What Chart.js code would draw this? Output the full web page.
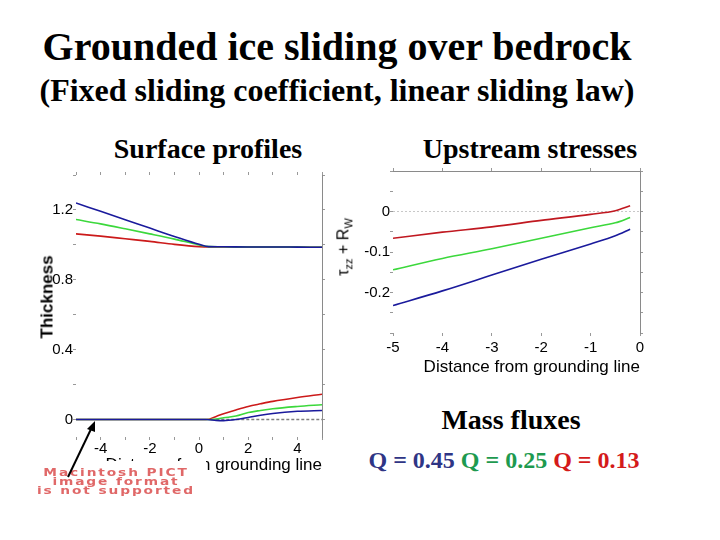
<!DOCTYPE html>
<html>
<head>
<meta charset="utf-8">
<script src="https://cdn.jsdelivr.net/npm/chart.js@4.4.1/dist/chart.umd.min.js"></script>
<style>
    body { margin: 0; width: 720px; height: 540px; background: #fff; position: relative; overflow: hidden;
           font-family: "Liberation Sans", Arial, sans-serif; }
    canvas { position: absolute; }
    .serif { position: absolute; white-space: nowrap; line-height: 1; font-weight: bold;
             font-family: "Liberation Serif", "Times New Roman", serif; transform: translateX(-50%); }
    .vlabel { position: absolute; white-space: nowrap; line-height: 1; color: #000;
              transform: translate(-50%, -50%) rotate(-90deg); }
    .pict { position: absolute; left: 26px; top: 461px; width: 180px; height: 38px; background: #fff;
            padding-top: 8px; box-sizing: border-box; }
    .pict div { text-align: center; color: #e06868; font: bold 11px "DejaVu Sans", sans-serif;
                letter-spacing: 1.5px; line-height: 8.8px; transform: scaleX(1.25); }
</style>
</head>
<body>

<div class="serif" style="left:337px; top:27px; font-size:40px;">Grounded ice sliding over bedrock</div>
<div class="serif" style="left:337px; top:74px; font-size:32px;">(Fixed sliding coefficient, linear sliding law)</div>
<div class="serif" style="left:208px; top:135px; font-size:28px;">Surface profiles</div>
<div class="serif" style="left:530px; top:135px; font-size:28px;">Upstream stresses</div>
<div class="serif" style="left:511px; top:406px; font-size:28px;">Mass fluxes</div>
<div class="serif" style="left:504px; top:448px; font-size:24px;">
    <span style="color:#2f3585">Q = 0.45</span>
    <span style="color:#1e9a4f">Q = 0.25</span>
    <span style="color:#d41a1a">Q = 0.13</span>
</div>

<canvas id="profileChart" width="330" height="316" style="left:0; top:160px;"></canvas>
<canvas id="stressChart" width="310" height="218" style="left:340px; top:160px;"></canvas>

<div class="vlabel" style="left:47px; top:297px; font-size:17px; font-weight:bold;">Thickness</div>
<div class="vlabel" style="left:345px; top:247px; font-size:16px;">&tau;<sub style="font-size:11px">zz</sub> + R<sub style="font-size:11px">W</sub></div>

<div class="pict">
    <div>Macintosh PICT</div>
    <div>image format</div>
    <div>is not supported</div>
</div>
<svg width="720" height="540" style="position:absolute; left:0; top:0;">
    <line x1="68" y1="477" x2="92" y2="427" stroke="#000" stroke-width="2"/>
    <polygon points="95,421 87,429 95,432" fill="#000"/>
</svg>

<script>
// --- Data: surface profiles (left panel) ---
const surfX   = [-5, -4, -3, -2, -1, 0, 0.4, 1, 2, 3, 4, 5];
const surfQ45 = [1.24, 1.192, 1.144, 1.096, 1.048, 1.003, 0.99, 0.989, 0.988, 0.988, 0.987, 0.986];
const surfQ25 = [1.145, 1.12, 1.092, 1.063, 1.033, 1.0, 0.99, 0.989, 0.988, 0.988, 0.987, 0.986];
const surfQ13 = [1.063, 1.05, 1.035, 1.02, 1.003, 0.99, 0.988, 0.988, 0.988, 0.988, 0.987, 0.986];

const baseX   = [-5, -4, -3, -2, -1, 0, 0.3, 0.7, 1, 1.5, 2, 2.5, 3, 4, 5];
const baseQ45 = [0, 0, 0, 0, 0, 0, 0, -0.005, -0.006, 0.0, 0.012, 0.025, 0.035, 0.047, 0.052];
const baseQ25 = [0, 0, 0, 0, 0, 0, 0, 0.003, 0.01, 0.02, 0.04, 0.052, 0.062, 0.075, 0.085];
const baseQ13 = [0, 0, 0, 0, 0, 0, 0, 0.018, 0.033, 0.055, 0.075, 0.09, 0.104, 0.126, 0.145];

const bedX = [0.5, 5];
const bedY = [0, 0];

// --- Data: upstream stresses (right panel) ---
const stressX   = [-5, -4, -3, -2, -1, -0.5, -0.2];
const stressQ45 = [-0.232, -0.196, -0.157, -0.118, -0.08, -0.06, -0.044];
const stressQ25 = [-0.144, -0.116, -0.092, -0.066, -0.04, -0.028, -0.015];
const stressQ13 = [-0.066, -0.051, -0.038, -0.022, -0.007, 0.002, 0.014];

const zeroX = [-5, 0];
const zeroY = [0, 0];

// --- Helpers ---
const BLUE = "#1a1a9c";
const GREEN = "#3cd83c";
const RED = "#cc1a1a";
const TICK_FONT = { family: "Liberation Sans, Arial, sans-serif", size: 15 };

const pts = (xs, ys) => xs.map((x, i) => ({ x: x, y: ys[i] }));
const fixW = (w) => (s) => { s.width = w; };
const fixH = (h) => (s) => { s.height = h; };

function line(xs, ys, color, extra) {
    return Object.assign({
        data: pts(xs, ys),
        showLine: true,
        borderColor: color,
        borderWidth: 1.6,
        pointRadius: 0,
        cubicInterpolationMode: "monotone",
    }, extra || {});
}

function tickMarks(pos, size, min, max, step, border) {
    return {
        type: "linear", position: pos, min: min, max: max,
        afterFit: (pos === "top" || pos === "bottom") ? fixH(size) : fixW(size),
        ticks: { display: false, stepSize: step, includeBounds: false },
        grid: { drawOnChartArea: false, tickLength: 3, color: "#999" },
        border: { display: border, color: "#8a8a8a", width: 1 },
    };
}

const baseOptions = {
    responsive: false,
    maintainAspectRatio: false,
    animation: false,
    layout: { padding: 0, autoPadding: false },
    plugins: { legend: { display: false }, tooltip: { enabled: false } },
};

// --- Surface profiles chart ---
new Chart(document.getElementById("profileChart"), {
    type: "scatter",
    data: {
        datasets: [
            line(surfX, surfQ45, BLUE),
            line(surfX, surfQ25, GREEN),
            line(surfX, surfQ13, RED),
            line(baseX, baseQ45, BLUE),
            line(baseX, baseQ25, GREEN),
            line(baseX, baseQ13, RED),
            line(bedX, bedY, "#808080", { borderDash: [3, 2], borderWidth: 1.5, cubicInterpolationMode: "default" }),
        ],
    },
    options: Object.assign({}, baseOptions, {
        scales: {
            x: {
                type: "linear", position: "bottom", min: -5, max: 5,
                afterFit: fixH(39),
                ticks: {
                    stepSize: 1, padding: 0, color: "#000", font: TICK_FONT, maxRotation: 0, autoSkip: false,
                    callback: v => (v % 2 === 0 && Math.abs(v) < 5) ? String(v) : "",
                },
                grid: { drawOnChartArea: false, tickLength: 3, color: "#999" },
                border: { display: false },
                title: {
                    display: true, text: "Distance from grounding line", align: "end", color: "#000",
                    font: { family: "Liberation Sans, Arial, sans-serif", size: 17 }, padding: 0,
                },
            },
            xTop: tickMarks("top", 15, -5, 5, 1, false),
            y: {
                type: "linear", position: "left", min: -0.1, max: 1.4,
                afterFit: fixW(76),
                ticks: {
                    stepSize: 0.2, includeBounds: false, padding: 0, color: "#000", font: TICK_FONT, autoSkip: false,
                    callback: v => {
                        const k = Math.round(v * 10);
                        return (k % 4 === 0 && k >= 0 && k <= 12) ? String(k / 10) : "";
                    },
                },
                grid: { drawOnChartArea: false, tickLength: 3, color: "#999" },
                border: { display: false },
            },
            yRight: tickMarks("right", 8, -0.1, 1.4, 0.2, true),
        },
    }),
});

// --- Upstream stresses chart ---
new Chart(document.getElementById("stressChart"), {
    type: "scatter",
    data: {
        datasets: [
            line(stressX, stressQ13, "#c01820"),
            line(stressX, stressQ25, GREEN),
            line(stressX, stressQ45, BLUE),
            line(zeroX, zeroY, "#c8c8c8", { borderDash: [2, 2], borderWidth: 1, cubicInterpolationMode: "default" }),
        ],
    },
    options: Object.assign({}, baseOptions, {
        scales: {
            x: {
                type: "linear", position: "bottom", min: -5, max: 0,
                afterFit: fixH(45),
                ticks: {
                    stepSize: 1, padding: 3, color: "#000", font: TICK_FONT, maxRotation: 0, autoSkip: false,
                    callback: v => String(v),
                },
                grid: { drawOnChartArea: false, tickLength: 3, color: "#999" },
                border: { display: false },
                title: {
                    display: true, text: "Distance from grounding line", align: "end", color: "#000",
                    font: { family: "Liberation Sans, Arial, sans-serif", size: 17 }, padding: 0,
                },
            },
            xTop: tickMarks("top", 11, -5, 0, 1, true),
            y: {
                type: "linear", position: "left", min: -0.3, max: 0.1,
                afterFit: fixW(53),
                ticks: {
                    stepSize: 0.05, includeBounds: false, padding: 0, color: "#000", font: TICK_FONT, autoSkip: false,
                    callback: v => {
                        const k = Math.round(v * 100);
                        return (k % 10 === 0 && k >= -20 && k <= 0) ? String(k / 100) : "";
                    },
                },
                grid: { drawOnChartArea: false, tickLength: 3, color: "#999" },
                border: { display: false },
            },
            yRight: tickMarks("right", 10, -0.3, 0.1, 0.05, true),
        },
    }),
});
</script>
</body>
</html>
